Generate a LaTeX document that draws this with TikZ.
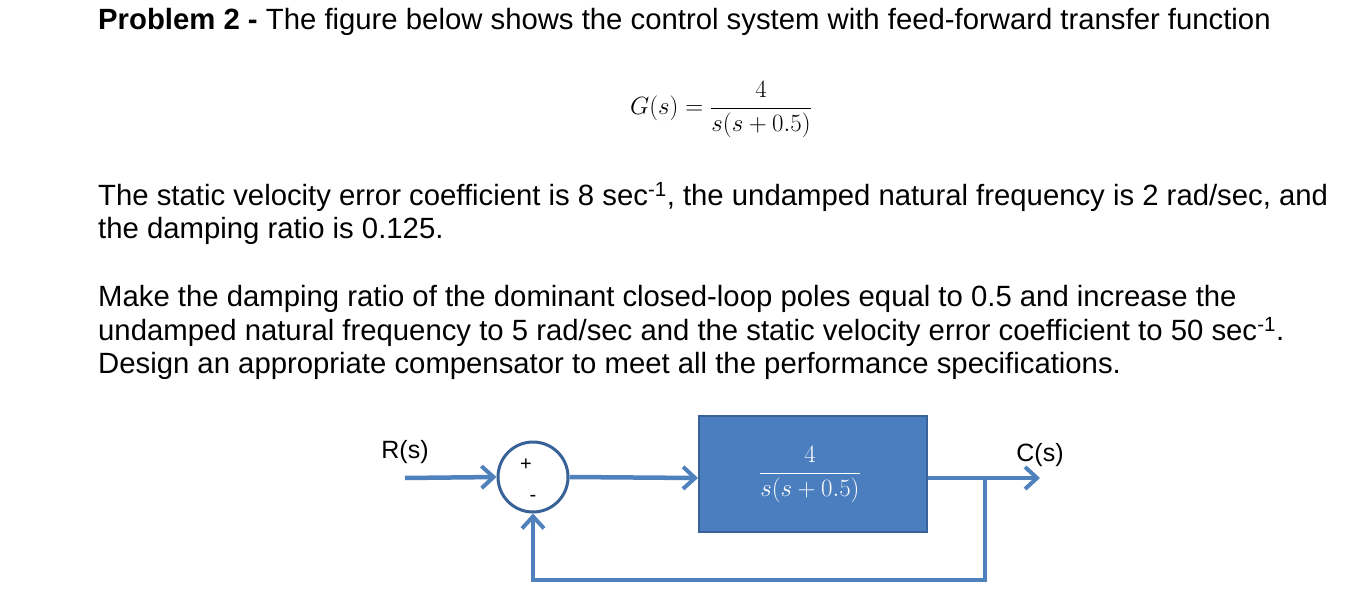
\documentclass[tikz,border=0pt]{standalone}
\usepackage{amsmath}
\usepackage{fontspec}
\setmainfont{Liberation Sans}
\usetikzlibrary{arrows.meta}
\begin{document}
\begin{tikzpicture}[x=1pt,y=-1pt,
  txt/.style={anchor=west,inner sep=0pt,font=\fontsize{29.3}{35}\selectfont},
  wire/.style={draw=wireblue,line width=4.5pt},
  arr/.style={wire,-{Straight Barb[length=12pt,width=22pt,line width=4pt]}},
  lab/.style={inner sep=0pt,font=\fontsize{25}{30}\selectfont}]
\definecolor{wireblue}{RGB}{79,129,189}
\definecolor{boxblue}{RGB}{74,126,191}
\definecolor{boxedge}{RGB}{56,98,152}
\useasboundingbox[fill=white] (0,0) rectangle (1360,610);
\node[txt] (t1) at (98,22) {\textbf{Problem 2 -} The figure below shows the control system with feed-forward transfer function};
\node[inner sep=0pt,font=\fontsize{33}{40}\selectfont] (eq) at (721,110) {$G(s)=\dfrac{4}{s(s+0.5)}$};
\node[txt] (t2) at (98,197) {The static velocity error coefficient is 8 sec$^{\text{-1}}$, the undamped natural frequency is 2 rad/sec, and};
\node[txt] (t3) at (98,231) {the damping ratio is 0.125.};
\node[txt] (t4) at (98,299) {Make the damping ratio of the dominant closed-loop poles equal to 0.5 and increase the};
\node[txt] (t5) at (98,332) {undamped natural frequency to 5 rad/sec and the static velocity error coefficient to 50 sec$^{\text{-1}}$.};
\node[txt] (t6) at (98,366) {Design an appropriate compensator to meet all the performance specifications.};
% block diagram
\node[circle,draw=boxedge,line width=3pt,fill=white,minimum size=70pt,inner sep=0pt] (sum) at (533,477) {};
\node[lab,font=\fontsize{20}{24}\selectfont] (plus) at (526,465) {+};
\node[lab,font=\fontsize{20}{24}\selectfont] (minus) at (533,498) {-};
\node[draw=boxedge,line width=2pt,fill=boxblue,minimum width=228pt,minimum height=116pt,inner sep=0pt] (G) at (813,474) {};
\node[inner sep=0pt,text=white,font=\fontsize{37}{44}\selectfont] (Gtf) at (810,475) {$\dfrac{4}{s(s+0.5)}$};
\coordinate (in) at (405,478);
\coordinate (out) at (1040,478);
\coordinate (br) at (985,478);
\coordinate (bl) at (985,580);
\coordinate (bs) at (533,580);
\node[lab] (R) at (405,452) {R(s)};
\node[lab] (C) at (1040,455) {C(s)};
\draw[arr] (in) -- (sum.west);
\draw[arr] (sum.east) -- (G.west |- in);
\draw[arr] (G.east |- in) -- (out);
\draw[arr] (br) -- (bl) -- (bs) -- (sum.south);
\end{tikzpicture}
\end{document}
